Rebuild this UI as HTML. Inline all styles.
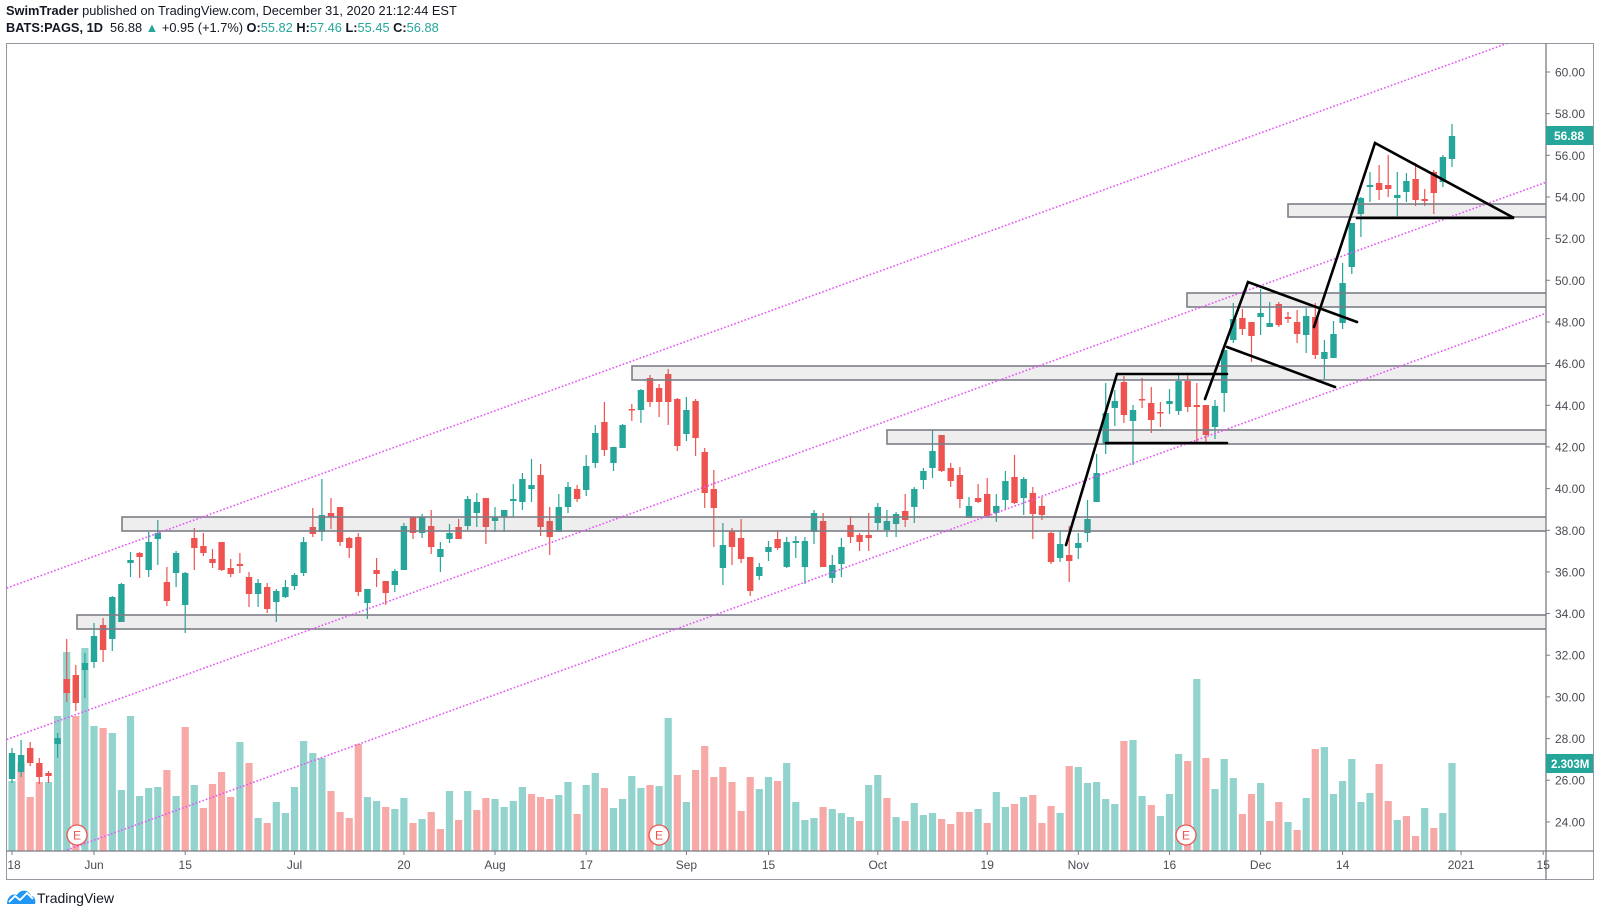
<!DOCTYPE html>
<html><head><meta charset="utf-8">
<style>
html,body{margin:0;padding:0;background:#fff;}
body{width:1600px;height:915px;overflow:hidden;position:relative;font-family:"Liberation Sans",sans-serif;}
.h1{position:absolute;left:6px;top:3px;font-size:12.8px;color:#131722;white-space:nowrap;}
.h2{position:absolute;left:6px;top:20px;font-size:12.8px;color:#131722;white-space:nowrap;}
.t{color:#26a69a;}
</style></head>
<body>
<div class="h1"><b>SwimTrader</b> published on TradingView.com, December 31, 2020 21:12:44 EST</div>
<div class="h2"><b>BATS:PAGS, 1D</b>&nbsp; 56.88 <span class="t">▲</span> +0.95 (+1.7%) <b>O:</b><span class="t">55.82</span> <b>H:</b><span class="t">57.46</span> <b>L:</b><span class="t">55.45</span> <b>C:</b><span class="t">56.88</span></div>
<svg id="c" width="1600" height="915" style="position:absolute;left:0;top:0" xmlns="http://www.w3.org/2000/svg"></svg>
<script>
(function(){
var C=[[779,753,748,783],[772,755,740,777],[748,763,742,766],[763,777,758,784],[773,776,771,783],[744,738,733,758],[679,693,639,702],[675,703,665,711],[670,663,653,698],[662,636,623,668],
[625,650,618,662],[639,597,596,651],[622,584,583,622],[563,560,552,577],[553,557,552,578],[570,542,532,577],[539,533,520,565],[582,601,567,606],[573,553,551,587],[605,573,572,633],
[538,548,528,570],[546,553,533,556],[559,563,549,568],[542,570,542,571],[568,574,559,577],[564,566,553,573],[577,594,572,607],[594,583,579,607],[587,609,583,613],[602,591,589,622],
[597,587,580,598],[586,575,573,590],[573,542,537,576],[527,534,508,537],[532,515,479,541],[513,517,498,529],[507,542,507,546],[538,548,537,558],[537,592,533,596],[603,589,589,619],
[570,574,558,587],[581,593,581,605],[585,571,569,592],[570,526,523,570],[517,533,517,539],[533,517,514,538],[526,547,510,554],[557,549,542,572],[539,533,524,543],[527,539,519,539],
[526,499,496,530],[513,502,493,527],[498,527,498,544],[521,517,507,532],[517,510,510,532],[501,499,484,517],[502,479,473,510],[489,485,459,502],[475,527,464,536],[521,537,507,555],
[532,507,494,532],[507,487,482,513],[489,499,485,502],[490,466,455,496],[463,433,425,468],[422,450,402,456],[463,447,447,471],[448,425,424,448],[409,410,404,421],[410,390,389,423],
[378,402,375,407],[388,402,384,417],[374,402,369,425],[399,446,398,451],[434,410,397,441],[401,438,399,456],[452,493,448,508],[489,508,470,547],[568,545,523,585],[531,547,528,565],
[538,559,519,563],[557,591,557,596],[576,567,563,580],[552,547,541,561],[539,548,531,550],[567,542,537,568],[543,541,536,558],[567,541,537,584],[532,513,510,544],[521,567,513,567],
[578,565,555,583],[564,547,538,577],[525,537,516,543],[535,542,533,551],[535,538,513,551],[523,507,503,530],[530,521,510,537],[524,514,512,537],[511,520,494,527],[507,489,487,523],
[480,471,468,489],[468,451,430,478],[435,471,435,472],[468,481,463,487],[475,499,467,508],[518,506,497,518],[498,502,484,503],[494,516,478,517],[513,506,494,522],[500,481,471,509],
[477,503,455,504],[498,479,477,515],[493,514,487,539],[506,515,497,520],[533,562,532,564],[558,544,531,562],[555,561,526,582],[548,543,533,559],[533,519,500,542],[502,473,454,502],
[445,413,383,454],[408,401,390,426],[382,415,376,423],[421,410,405,465],[399,400,378,408],[403,420,387,433],[412,413,402,427],[404,401,389,414],[411,381,375,415],[381,407,375,412],
[405,407,383,442],[405,435,405,442],[427,406,400,439],[393,350,350,412],[340,319,303,343],[318,329,309,335],[322,336,322,362],[317,313,289,335],[327,323,302,327],[304,325,302,327],
[317,319,312,323],[322,334,310,343],[335,316,308,353],[317,355,303,359],[359,352,340,379],[358,334,321,358],[323,283,263,329],[267,223,223,274],[214,198,197,237],[187,185,172,202],
[183,190,165,200],[185,189,155,197],[198,195,172,218],[192,181,173,202],[179,200,163,206],[199,201,189,206],[172,193,170,214],[182,157,155,187],[159,136,124,167]];
var V="781g 763r 797r 782r 782g 716g 652g 716r 648g 726g 728r 733g 790g 716g 796g 788g 787g 770r 796g 727r 785g 808r 784r 772r 797r 742g 763r 818g 823r 802g 813g 787g 741g 753g 758g 791r 812r 818r 744r 797g 801g 807r 809g 798g 823r 819g 812r 829r 791g 820r 791g 810r 798r 799g 807g 801g 787g 794r 797r 799r 795g 782g 814r 785g 773g 788r 808g 799g 776g 788g 785r 786g 718g 775r 802g 770r 746r 777r 767r 782r 811r 777r 789g 777g 781r 763g 802g 820g 818g 807r 809g 813g 817g 821r 785g 775g 798r 817g 821r 803g 815g 813g 819r 824r 812r 812r 809g 823r 792g 807g 804r 797g 795r 823r 806r 813g 766r 767g 783g 782g 799g 804g 741r 740g 796g 805r 816g 794g 754g 761r 679g 758r 789g 759g 778g 814r 794r 783g 821r 802r 822g 830r 798g 749r 747g 794g 781g 759g 802g 793g 764r 801r 820g 816r 836r 808g 828r 813g 763g".split(" ");
var s="",X=function(i){return 12+i*9.114;},B=851,AX=1546;
s+='<defs><clipPath id="pc"><rect x="7" y="44" width="1539" height="807"/></clipPath></defs>';
s+='<g clip-path="url(#pc)">';
for(var i=0;i<V.length;i++){var v=V[i],vt=parseInt(v),g=v[v.length-1]=="g";s+='<rect x="'+(X(i)-3.6).toFixed(1)+'" y="'+vt+'" width="7.2" height="'+(B-vt)+'" fill="'+(g?"#92d3cd":"#f7a9a8")+'"/>';}
for(var i=0;i<C.length;i++){var c=C[i],x=X(i),up=c[1]<=c[0],col=up?"#26a69a":"#ef5350",by=Math.min(c[0],c[1]),h=Math.max(1.5,Math.abs(c[0]-c[1]));
s+='<line x1="'+x.toFixed(1)+'" x2="'+x.toFixed(1)+'" y1="'+c[2]+'" y2="'+c[3]+'" stroke="'+col+'" stroke-width="1.2"/>';
s+='<rect x="'+(x-3.2).toFixed(1)+'" y="'+by+'" width="6.4" height="'+h+'" fill="'+col+'"/>';}
var bands=[[77,615,629],[122,517,531],[887,430,444],[632,366,380],[1187,293,307],[1288,204,217]];
bands.forEach(function(b){s+='<rect x="'+b[0]+'" y="'+b[1]+'" width="'+(1560-b[0])+'" height="'+(b[2]-b[1])+'" fill="rgba(120,123,134,0.13)" stroke="#7c7e86" stroke-width="1.6"/>';});
var m='stroke="#e455f5" stroke-width="1.6" stroke-dasharray="1.6,2" fill="none"';
s+='<line x1="0" y1="590.5" x2="1546" y2="29.3" '+m+'/>';
s+='<line x1="0" y1="742" x2="1546" y2="182.3" '+m+'/>';
s+='<line x1="67" y1="850" x2="1546" y2="313.3" '+m+'/>';
var k='stroke="#000" stroke-width="2.6" fill="none" stroke-linecap="round"';
s+='<polyline points="1066,545 1117,374 1227,374" '+k+'/>';
s+='<line x1="1106" y1="443" x2="1227" y2="443" '+k+'/>';
s+='<polyline points="1205,399 1248,282 1357,322" '+k+'/>';
s+='<line x1="1227" y1="347" x2="1335" y2="387" '+k+'/>';
s+='<polyline points="1314,327 1375,143 1514,218 1357,218" '+k+'/>';
[77,659,1186].forEach(function(x){s+='<circle cx="'+x+'" cy="835" r="10" fill="#fff" stroke="#ef5350" stroke-width="1.3"/><text x="'+x+'" y="839.5" font-size="12" fill="#ef5350" text-anchor="middle" font-family="Liberation Sans,sans-serif">E</text>';});
s+='</g>';
s+='<rect x="6.5" y="43.5" width="1587" height="836" fill="none" stroke="#9598a1" stroke-width="1"/>';
s+='<line x1="'+AX+'" y1="43" x2="'+AX+'" y2="880" stroke="#7c7e86" stroke-width="1.3"/>';
s+='<line x1="6" y1="851" x2="1594" y2="851" stroke="#7c7e86" stroke-width="1.3"/>';
for(var p=60;p>=24;p-=2){var y=72+(60-p)*20.83;s+='<line x1="'+AX+'" x2="'+(AX+4)+'" y1="'+y.toFixed(1)+'" y2="'+y.toFixed(1)+'" stroke="#7c7e86"/>';
 s+='<text x="'+(AX+9)+'" y="'+(y+4.5).toFixed(1)+'" font-size="12" fill="#4a4c54" font-family="Liberation Sans,sans-serif">'+p.toFixed(2)+'</text>';}
s+='<rect x="'+AX+'" y="126" width="47" height="19" fill="#26a69a"/><text x="'+(AX+8)+'" y="140" font-size="12" font-weight="bold" fill="#fff" font-family="Liberation Sans,sans-serif">56.88</text>';
s+='<rect x="'+AX+'" y="754" width="47" height="19" fill="#26a69a"/><text x="'+(AX+5)+'" y="768" font-size="11.5" font-weight="bold" fill="#fff" font-family="Liberation Sans,sans-serif">2.303M</text>';
var T=[[0,"18"],[9,"Jun"],[19,"15"],[31,"Jul"],[43,"20"],[53,"Aug"],[63,"17"],[74,"Sep"],[83,"15"],[95,"Oct"],[107,"19"],[117,"Nov"],[127,"16"],[137,"Dec"],[146,"14"],[159,"2021"],[168,"15"]];
T.forEach(function(t){var x=X(t[0]);s+='<line x1="'+x.toFixed(1)+'" x2="'+x.toFixed(1)+'" y1="851" y2="855" stroke="#7c7e86"/><text x="'+(t[0]==0?x+2:x).toFixed(1)+'" y="869" font-size="12" fill="#4a4c54" text-anchor="middle" font-family="Liberation Sans,sans-serif">'+t[1]+'</text>';});
s+='<path d="M7,904 C7,897 12,893 17,895 C20,889 29,889 31,896 C35,896 36,901 35,904 Z" fill="#2196f3"/><polyline points="9,902 15,896 20,900 27,893 33,899" stroke="#fff" stroke-width="1.8" fill="none"/>';
s+='<text x="37" y="903" font-size="14" fill="#131722" font-family="Liberation Sans,sans-serif">TradingView</text>';
document.getElementById("c").innerHTML=s;
})();
</script>
</body></html>
